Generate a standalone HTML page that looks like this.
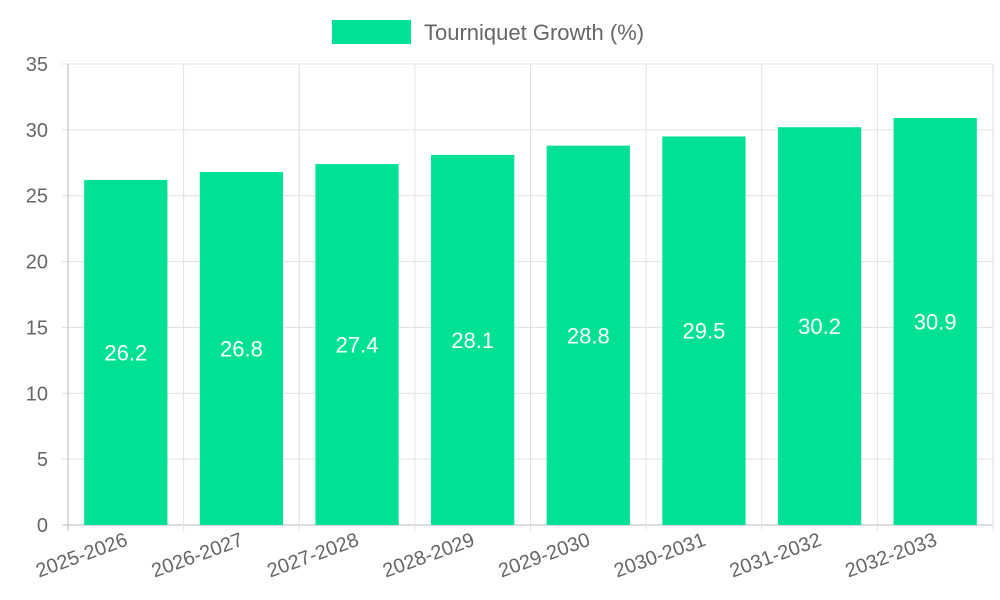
<!DOCTYPE html>
<html><head><meta charset="utf-8"><style>body{margin:0;background:#fff}svg{display:block;font-family:"Liberation Sans",sans-serif}</style></head>
<body>
<svg id="c" width="1000" height="600">
<g>
<rect x="332" y="20" width="79" height="24" fill="#00e194"/>
<text x="424" y="40" font-size="22" fill="#666">Tourniquet Growth (%)</text>
</g>
<g id="grid"></g><g id="bars"></g><g id="labels"></g>
</svg>
<script>
const categories=["2025-2026","2026-2027","2027-2028","2028-2029","2029-2030","2030-2031","2031-2032","2032-2033"];
const values=[26.2,26.8,27.4,28.1,28.8,29.5,30.2,30.9];
const yTicks=[0,5,10,15,20,25,30,35];
const NS="http://www.w3.org/2000/svg";
const L=68,R=993,T=64,B=525,yMax=35;
const y=v=>B-(v/yMax)*(B-T);
const bw=(R-L)/categories.length;
const x=i=>L+bw*i;
function mk(t,a,p){const e=document.createElementNS(NS,t);for(const k in a)e.setAttribute(k,a[k]);p.appendChild(e);return e;}
const g=document.getElementById('grid'),bg=document.getElementById('bars'),lg=document.getElementById('labels');
yTicks.forEach(v=>{
 const ln=mk('line',{x1:62,x2:R,y1:y(v),y2:y(v),stroke:v===0?'#bbb':'#e0e0e0','stroke-width':1},g);
 
 
 const t=mk('text',{x:48,y:y(v)+7,'text-anchor':'end','font-size':20,fill:'#666'},g);t.textContent=v;
 
 
});
for(let i=0;i<=categories.length;i++){
 const ln=mk('line',{x1:x(i),x2:x(i),y1:T,y2:B+6,stroke:i===0?'#bbb':'#e0e0e0','stroke-width':1},g);
 
 
}
categories.forEach((c,i)=>{
 const cx=x(i)+bw/2,w=bw*0.72;
 const r=mk('rect',{x:cx-w/2,y:y(values[i]),width:w,height:B-y(values[i]),fill:'#00e194'},bg);
 
 
 const t=mk('text',{x:cx,y:(y(values[i])+B)/2+8,'text-anchor':'middle','font-size':22,fill:'#fff'},lg);t.textContent=values[i];
 
 
 const xl=mk('text',{x:cx+3,y:B+20,'text-anchor':'end','font-size':20,fill:'#666',transform:`rotate(-20 ${cx+3} ${B+20})`},lg);xl.textContent=c;
 
 
});
</script>
</body></html>
